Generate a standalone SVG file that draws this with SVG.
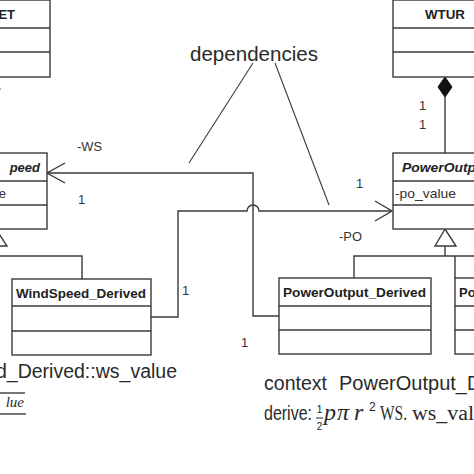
<svg xmlns="http://www.w3.org/2000/svg" width="474" height="474" viewBox="0 0 474 474">
<defs>
<style>
.box{fill:#fff;stroke:#3a3a3a;stroke-width:1.4}
.ln{fill:none;stroke:#3a3a3a;stroke-width:1.4}
.dep{fill:none;stroke:#3a3a3a;stroke-width:1.1}
.t{font-family:"Liberation Sans",Arial,sans-serif;fill:#222}
.title{font-family:"Liberation Sans",Arial,sans-serif;font-weight:bold;font-size:13px;fill:#222}
.lab{font-family:"Liberation Sans",Arial,sans-serif;font-size:13px;fill:#333}
.big{font-family:"Liberation Sans",Arial,sans-serif;font-size:19.5px;fill:#2a2a2a}
.math{font-family:"Liberation Serif","Times New Roman",serif;font-style:italic;fill:#2a2a2a}
.serif{font-family:"Liberation Serif","Times New Roman",serif;fill:#2a2a2a}
</style>
</defs>
<rect width="474" height="474" fill="#fff"/>

<g id="connectors">
  <!-- WS association -->
  <polyline class="ln" points="279,316 253,316 253,173 47,173"/>
  <polyline class="ln" points="65,163 47,173 65,183"/>
  <!-- PO association with hop -->
  <path class="ln" d="M151,317 H178 V211 H247 A6,6 0 0 1 259,211 H392"/>
  <polyline class="ln" points="375,201 392,211 375,221"/>
  <!-- composition WTUR - PowerOutput -->
  <line class="ln" x1="445" y1="97" x2="445" y2="153"/>
  <polygon points="445,77 452,87 445,97 438,87" fill="#111" stroke="#111" stroke-width="1"/>
  <!-- generalization right -->
  <polygon class="box" points="445,229 456,246 435,246"/>
  <polyline class="ln" points="445,246 445,256"/>
  <polyline class="ln" points="474,256 354,256 354,278"/>
  <polyline class="ln" points="455,256 455,278"/>
  <!-- generalization left -->
  <polygon class="box" points="-4,229 7,246 -15,246"/>
  <polyline class="ln" points="-4,246 -4,256 82,256 82,279"/>
  <!-- dependency notes -->
  <line class="dep" x1="253" y1="63" x2="189" y2="163"/>
  <line class="dep" x1="275" y1="63" x2="329" y2="205"/>
</g>

<g id="WMET">
  <rect class="box" x="-60" y="0" width="110" height="77"/>
  <line class="ln" x1="-60" y1="28" x2="50" y2="28"/>
  <line class="ln" x1="-60" y1="52" x2="50" y2="52"/>
  <text class="title" x="15" y="19" text-anchor="end">ET</text>
  <text class="lab" x="-4" y="96" font-size="14">*</text>
</g>

<g id="WTUR">
  <rect class="box" x="393" y="0" width="110" height="77"/>
  <line class="ln" x1="393" y1="28" x2="503" y2="28"/>
  <line class="ln" x1="393" y1="52" x2="503" y2="52"/>
  <text class="title" x="445" y="19" text-anchor="middle" textLength="40" lengthAdjust="spacingAndGlyphs">WTUR</text>
</g>

<g id="WindSpeed">
  <rect class="box" x="-60" y="153" width="107" height="76"/>
  <line class="ln" x1="-60" y1="181" x2="47" y2="181"/>
  <line class="ln" x1="-60" y1="205" x2="47" y2="205"/>
  <text class="title" x="40" y="172" text-anchor="end" font-style="italic">peed</text>
  <text class="lab" x="6" y="198" text-anchor="end">e</text>
</g>

<g id="PowerOutput">
  <rect class="box" x="393" y="153" width="110" height="76"/>
  <line class="ln" x1="393" y1="181" x2="503" y2="181"/>
  <line class="ln" x1="393" y1="205" x2="503" y2="205"/>
  <text class="title" x="402" y="172" font-style="italic" textLength="74" lengthAdjust="spacingAndGlyphs">PowerOutp</text>
  <text class="lab" x="395" y="198" textLength="61" lengthAdjust="spacingAndGlyphs">-po_value</text>
</g>

<g id="WindSpeed_Derived">
  <rect class="box" x="12" y="279" width="139" height="76"/>
  <line class="ln" x1="12" y1="306" x2="151" y2="306"/>
  <line class="ln" x1="12" y1="331" x2="151" y2="331"/>
  <text class="title" x="16" y="298" textLength="130" lengthAdjust="spacingAndGlyphs">WindSpeed_Derived</text>
</g>

<g id="PowerOutput_Derived">
  <rect class="box" x="279" y="278" width="152" height="76"/>
  <line class="ln" x1="279" y1="306" x2="431" y2="306"/>
  <line class="ln" x1="279" y1="330" x2="431" y2="330"/>
  <text class="title" x="283" y="297" textLength="143" lengthAdjust="spacingAndGlyphs">PowerOutput_Derived</text>
</g>

<g id="PowerOutput_other">
  <rect class="box" x="455" y="278" width="60" height="76"/>
  <line class="ln" x1="455" y1="306" x2="515" y2="306"/>
  <line class="ln" x1="455" y1="330" x2="515" y2="330"/>
  <text class="title" x="459" y="297">Po</text>
</g>

<g id="labels">
  <text class="lab" x="77" y="151" textLength="25" lengthAdjust="spacingAndGlyphs">-WS</text>
  <text class="lab" x="78" y="204">1</text>
  <text class="lab" x="356" y="188">1</text>
  <text class="lab" x="419" y="110">1</text>
  <text class="lab" x="419" y="129">1</text>
  <text class="lab" x="339" y="241" textLength="23" lengthAdjust="spacingAndGlyphs">-PO</text>
  <text class="lab" x="182" y="295">1</text>
  <text class="lab" x="241" y="347">1</text>
</g>

<g id="dependencies-note">
  <text class="big" x="190" y="61" textLength="128" lengthAdjust="spacingAndGlyphs">dependencies</text>
</g>

<g id="ocl-left">
  <text class="big" x="177" y="378" text-anchor="end">d_Derived::ws_value</text>
  <line class="ln" x1="0" y1="393" x2="25" y2="393" stroke-width="1.2"/>
  <text class="math" x="24" y="407" font-size="15" text-anchor="end">lue</text>
  <line class="ln" x1="0" y1="414" x2="26" y2="414" stroke-width="1.2"/>
</g>

<g id="ocl-right">
  <text class="big" x="264" y="390" textLength="63" lengthAdjust="spacingAndGlyphs">context</text>
  <text class="big" x="339" y="390" textLength="128" lengthAdjust="spacingAndGlyphs">PowerOutput_</text>
  <text class="big" x="467" y="390">D</text>
  <text class="big" x="264" y="420" textLength="48" lengthAdjust="spacingAndGlyphs">derive:</text>
  <text class="t" x="319.5" y="413" font-size="10" text-anchor="middle">1</text>
  <line x1="316" y1="418" x2="323" y2="418" stroke="#2a2a2a" stroke-width="1"/>
  <text class="t" x="319.5" y="430" font-size="10" text-anchor="middle">2</text>
  <text class="math" y="420" font-size="24"><tspan x="324">p</tspan><tspan x="337">π</tspan><tspan x="354">r</tspan></text>
  <text class="t" x="369" y="411" font-size="12">2</text>
  <text class="serif" x="380" y="420" font-size="20" textLength="27" lengthAdjust="spacingAndGlyphs">WS.</text>
  <text class="serif" x="412" y="420" font-size="20" textLength="62" lengthAdjust="spacingAndGlyphs">ws_val</text>
</g>
</svg>
